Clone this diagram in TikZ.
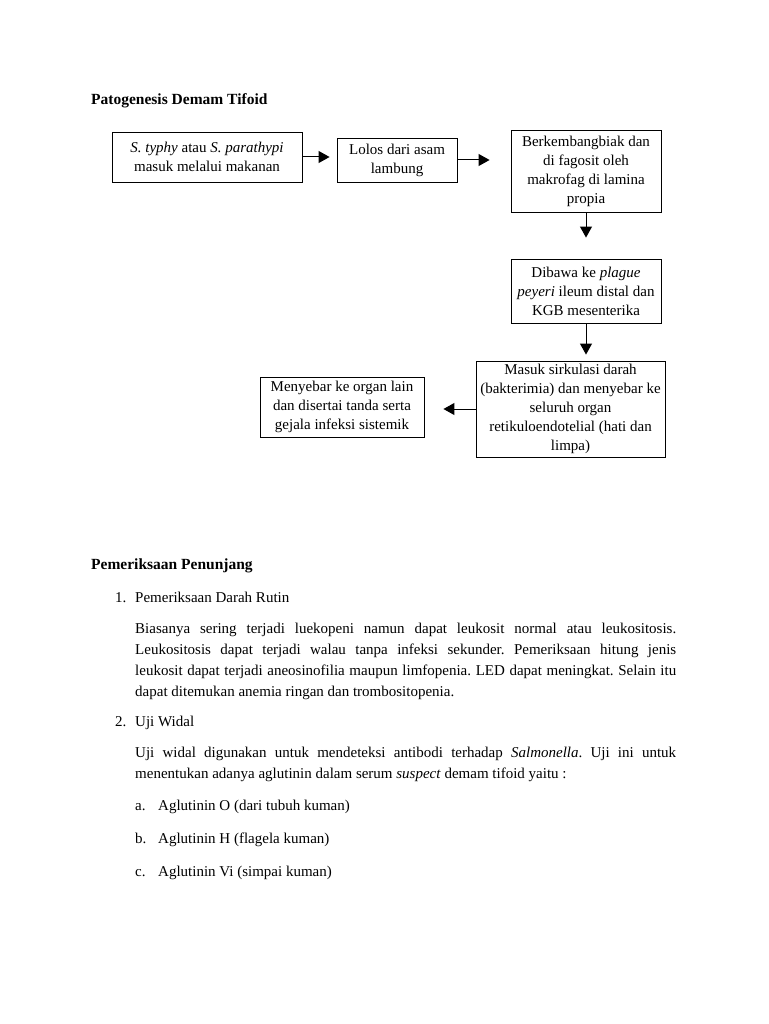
\documentclass[tikz,border=0pt]{standalone}
\usepackage{fontspec}
\setmainfont{Liberation Serif}
\usetikzlibrary{arrows.meta}
\frenchspacing

\begin{document}
\begin{tikzpicture}[x=1pt,y=-1pt,
        flowbox/.style={draw, line width=0.9pt, align=center, inner sep=0pt,
            font=\fontsize{15}{19}\selectfont},
        arr/.style={line width=1pt, -{Triangle[length=11pt,width=12pt]}},
        txt/.style={anchor=base west, inner sep=0pt, font=\fontsize{15}{21}\selectfont}]
        \fill[white] (0,0) rectangle (768,1024);
        \useasboundingbox (0,0) rectangle (768,1024);
        % Title
        \node[txt, font=\fontsize{15.5}{21}\selectfont\bfseries] (judul) at (91,105) {Patogenesis Demam Tifoid};
        % Nodes
        \node[flowbox, minimum width=190pt, minimum height=50pt] (masuk) at (207,157)
            {\textit{S. typhy} atau \textit{S. parathypi}\\masuk melalui makanan};
        \node[flowbox, minimum width=120pt, minimum height=44pt] (lolos) at (397,160)
            {Lolos dari asam\\lambung};
        \node[flowbox, minimum width=150pt, minimum height=82pt] (fagosit) at (586,171)
            {Berkembangbiak dan\\di fagosit oleh\\makrofag di lamina\\propia};
        \node[flowbox, minimum width=150pt, minimum height=64pt] (peyeri) at (586,291)
            {Dibawa ke \textit{plague}\\\textit{peyeri} ileum distal dan\\KGB mesenterika};
        \node[flowbox, minimum width=189pt, minimum height=96pt] (sirkulasi) at (570.5,409)
            {Masuk sirkulasi darah\\(bakterimia) dan menyebar ke\\seluruh organ\\retikuloendotelial (hati dan\\limpa)};
        \node[flowbox, minimum width=164pt, minimum height=60pt] (sistemik) at (342,407)
            {Menyebar ke organ lain\\dan disertai tanda serta\\gejala infeksi sistemik};
        % Edges
        \draw[arr, shorten >=7pt] (masuk.east) -- (masuk.east -| lolos.west);
        \draw[arr, shorten >=21pt] (lolos.east) -- (lolos.east -| fagosit.west);
        \draw[arr, shorten >=21pt] (fagosit.south) -- (peyeri.north);
        \draw[arr, shorten >=6pt] (peyeri.south) -- (peyeri.south |- sirkulasi.north);
        \draw[arr, shorten >=19pt] (sirkulasi.west) -- (sirkulasi.west -| sistemik.east);
        % Pemeriksaan penunjang
        \node[txt, font=\fontsize{15.5}{21}\selectfont\bfseries] (penunjang) at (91,569) {Pemeriksaan Penunjang};
        \node[txt] (no1) at (115,602) {1.};
        \node[txt] (darah) at (135,602) {Pemeriksaan Darah Rutin};
        \node[txt, text width=541pt, align=justify] (par1) at (135,633)
            {Biasanya sering terjadi luekopeni namun dapat leukosit normal atau leukositosis.\linebreak
            Leukositosis dapat terjadi walau tanpa infeksi sekunder. Pemeriksaan hitung jenis\linebreak
            leukosit dapat terjadi aneosinofilia maupun limfopenia. LED dapat meningkat. Selain itu\linebreak
            dapat ditemukan anemia ringan dan trombositopenia.};
        \node[txt] (no2) at (115,726) {2.};
        \node[txt] (widal) at (135,726) {Uji Widal};
        \node[txt, text width=541pt, align=justify] (par2) at (135,757)
            {Uji widal digunakan untuk mendeteksi antibodi terhadap \textit{Salmonella}. Uji ini untuk\linebreak
            menentukan adanya aglutinin dalam serum \textit{suspect} demam tifoid yaitu :};
        \node[txt] (ha) at (135,810) {a.};
        \node[txt] (aglo) at (158,810) {Aglutinin O (dari tubuh kuman)};
        \node[txt] (hb) at (135,843) {b.};
        \node[txt] (aglh) at (158,843) {Aglutinin H (flagela kuman)};
        \node[txt] (hc) at (135,876) {c.};
        \node[txt] (aglvi) at (158,876) {Aglutinin Vi (simpai kuman)};
    \end{tikzpicture}
\end{document}
